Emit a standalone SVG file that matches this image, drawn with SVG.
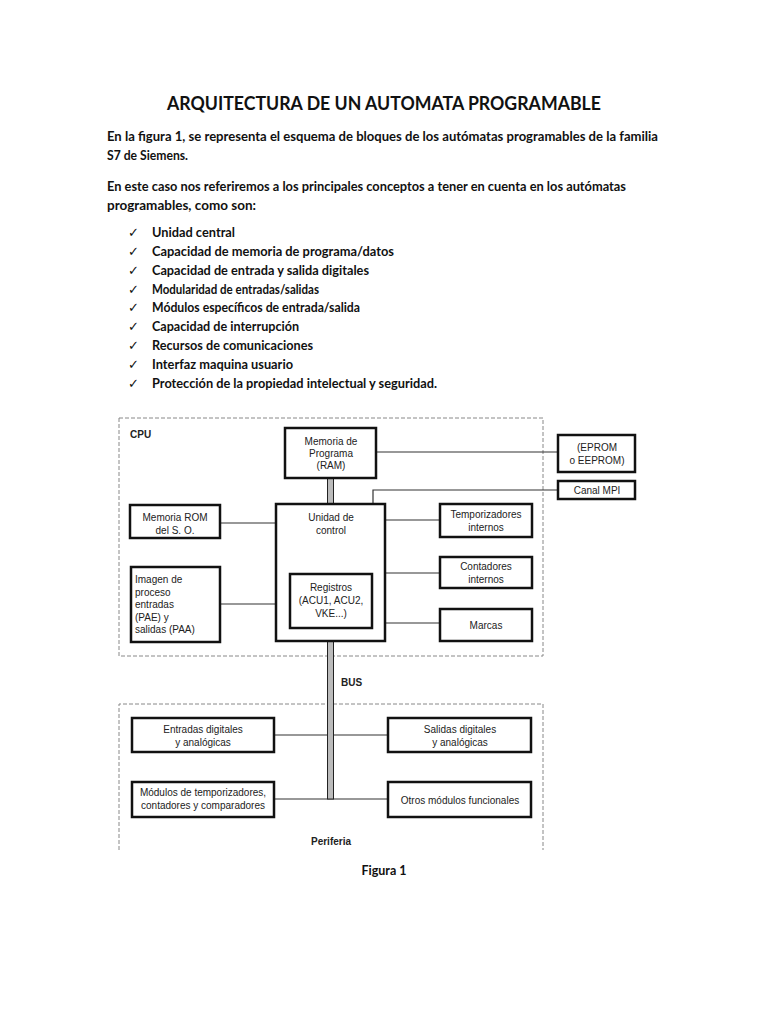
<svg xmlns="http://www.w3.org/2000/svg" width="768" height="1024" viewBox="0 0 768 1024">
<style>
.doc{font-family:Lato,"Open Sans","Liberation Sans",sans-serif;font-weight:bold;fill:#111;font-size:13.5px}
.ck{font-family:"DejaVu Sans",sans-serif;font-size:13px;fill:#111}
.t{font-family:"Liberation Sans",Arial,sans-serif;font-size:10px;fill:#222;text-anchor:middle}
.tl{font-family:"Liberation Sans",Arial,sans-serif;font-size:10px;fill:#222}
.lb{font-family:"Liberation Sans",Arial,sans-serif;font-size:10px;font-weight:bold;fill:#222}
.box{fill:#fff;stroke:#111;stroke-width:2.5}
.dash{fill:none;stroke:#888;stroke-width:1;stroke-dasharray:4 2}
.ln{stroke:#333;stroke-width:1.2;fill:none}
.bus{fill:#bbb;stroke:#222;stroke-width:1}
</style>
<rect width="768" height="1024" fill="#fff"/>
<g id="document">
<text x="384" y="110" text-anchor="middle" class="doc" style="font-size:19px" textLength="434" lengthAdjust="spacingAndGlyphs">ARQUITECTURA DE UN AUTOMATA PROGRAMABLE</text>
<text x="107" y="141" class="doc" textLength="551" lengthAdjust="spacingAndGlyphs">En la figura 1, se representa el esquema de bloques de los autómatas programables de la familia</text>
<text x="107" y="160" class="doc" textLength="81" lengthAdjust="spacingAndGlyphs">S7 de Siemens.</text>
<text x="107" y="191" class="doc" textLength="519" lengthAdjust="spacingAndGlyphs">En este caso nos referiremos a los principales conceptos a tener en cuenta en los autómatas</text>
<text x="107" y="210" class="doc" textLength="149" lengthAdjust="spacingAndGlyphs">programables, como son:</text>
<g class="ck">
<text x="128" y="237">✓</text>
<text x="128" y="256">✓</text>
<text x="128" y="275">✓</text>
<text x="128" y="294">✓</text>
<text x="128" y="312">✓</text>
<text x="128" y="331">✓</text>
<text x="128" y="350">✓</text>
<text x="128" y="369">✓</text>
<text x="128" y="388">✓</text>
</g>
<g class="doc">
<text x="152" y="237" textLength="83" lengthAdjust="spacingAndGlyphs">Unidad central</text>
<text x="152" y="256" textLength="242" lengthAdjust="spacingAndGlyphs">Capacidad de memoria de programa/datos</text>
<text x="152" y="275" textLength="217" lengthAdjust="spacingAndGlyphs">Capacidad de entrada y salida digitales</text>
<text x="152" y="294" textLength="167" lengthAdjust="spacingAndGlyphs">Modularidad de entradas/salidas</text>
<text x="152" y="312" textLength="208" lengthAdjust="spacingAndGlyphs">Módulos específicos de entrada/salida</text>
<text x="152" y="331" textLength="147" lengthAdjust="spacingAndGlyphs">Capacidad de interrupción</text>
<text x="152" y="350" textLength="161" lengthAdjust="spacingAndGlyphs">Recursos de comunicaciones</text>
<text x="152" y="369" textLength="141" lengthAdjust="spacingAndGlyphs">Interfaz maquina usuario</text>
<text x="152" y="388" textLength="285" lengthAdjust="spacingAndGlyphs">Protección de la propiedad intelectual y seguridad.</text>
</g>
<text x="384" y="875" text-anchor="middle" class="doc" style="font-size:12.5px">Figura 1</text>
</g>
<g id="frames">
<rect class="dash" x="119" y="418" width="424" height="238"/>
<text class="lb" x="130" y="438">CPU</text>
<path class="dash" d="M119 850 V704 H543 V850"/>
<text class="lb" x="331" y="845" text-anchor="middle">Periferia</text>
<text class="lb" x="341" y="686">BUS</text>
</g>
<g id="connectors">
<line class="ln" x1="377" y1="452" x2="558" y2="452"/>
<polyline class="ln" points="373,504 373,490 558,490"/>
<line class="ln" x1="220" y1="523" x2="276" y2="523"/>
<line class="ln" x1="220" y1="604" x2="276" y2="604"/>
<line class="ln" x1="385" y1="520" x2="440" y2="520"/>
<line class="ln" x1="385" y1="573" x2="440" y2="573"/>
<line class="ln" x1="385" y1="623" x2="440" y2="623"/>
<line class="ln" x1="274" y1="735" x2="388" y2="735"/>
<line class="ln" x1="274" y1="799" x2="388" y2="799"/>
<rect class="bus" x="327.5" y="478" width="6" height="26"/>
<rect class="bus" x="327.5" y="641" width="6" height="158"/>
</g>
<g id="memoria-programa">
<rect class="box" x="285" y="428" width="91" height="50"/>
<text class="t" x="331" y="445">Memoria de</text>
<text class="t" x="331" y="457">Programa</text>
<text class="t" x="331" y="469">(RAM)</text>
</g>
<g id="eprom">
<rect class="box" x="558" y="435" width="77" height="37"/>
<text class="t" x="597" y="451">(EPROM</text>
<text class="t" x="597" y="464">o EEPROM)</text>
</g>
<g id="canal-mpi">
<rect class="box" x="558" y="481" width="77" height="18"/>
<text class="t" x="597" y="494">Canal MPI</text>
</g>
<g id="memoria-rom">
<rect class="box" x="130" y="505" width="90" height="33"/>
<text class="t" x="175" y="521">Memoria ROM</text>
<text class="t" x="175" y="534">del S. O.</text>
</g>
<g id="unidad-control">
<rect class="box" x="276" y="504" width="109" height="137"/>
<text class="t" x="331" y="521">Unidad de</text>
<text class="t" x="331" y="534">control</text>
</g>
<g id="registros">
<rect class="box" x="290" y="574" width="82" height="54"/>
<text class="t" x="331" y="591">Registros</text>
<text class="t" x="331" y="604">(ACU1, ACU2,</text>
<text class="t" x="331" y="617">VKE...)</text>
</g>
<g id="imagen-proceso">
<rect class="box" x="131" y="567" width="89" height="75"/>
<text class="tl" x="135" y="583">Imagen de</text>
<text class="tl" x="135" y="596">proceso</text>
<text class="tl" x="135" y="608">entradas</text>
<text class="tl" x="135" y="621">(PAE) y</text>
<text class="tl" x="135" y="633">salidas (PAA)</text>
</g>
<g id="temporizadores">
<rect class="box" x="440" y="504" width="92" height="33"/>
<text class="t" x="486" y="518">Temporizadores</text>
<text class="t" x="486" y="531">internos</text>
</g>
<g id="contadores">
<rect class="box" x="440" y="557" width="92" height="31"/>
<text class="t" x="486" y="570">Contadores</text>
<text class="t" x="486" y="583">internos</text>
</g>
<g id="marcas">
<rect class="box" x="440" y="609" width="92" height="32"/>
<text class="t" x="486" y="629">Marcas</text>
</g>
<g id="entradas">
<rect class="box" x="132" y="718" width="142" height="34"/>
<text class="t" x="203" y="733">Entradas digitales</text>
<text class="t" x="203" y="746">y analógicas</text>
</g>
<g id="salidas">
<rect class="box" x="388" y="718" width="143" height="34"/>
<text class="t" x="460" y="733">Salidas digitales</text>
<text class="t" x="460" y="746">y analógicas</text>
</g>
<g id="modulos">
<rect class="box" x="132" y="782" width="142" height="35"/>
<text class="t" x="203" y="796">Módulos de temporizadores,</text>
<text class="t" x="203" y="809">contadores y comparadores</text>
</g>
<g id="otros">
<rect class="box" x="388" y="782" width="143" height="35"/>
<text class="t" x="460" y="804">Otros módulos funcionales</text>
</g>
</svg>
